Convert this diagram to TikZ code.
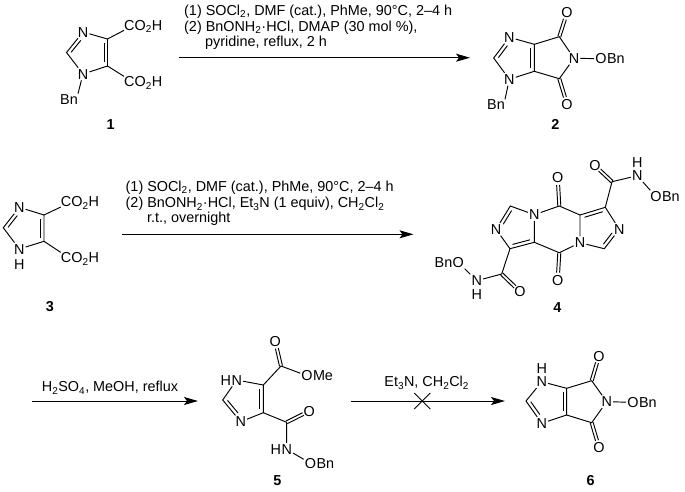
\documentclass[tikz,border=0pt]{standalone}
\usepackage{fontspec}
\setmainfont{Liberation Sans}
\usetikzlibrary{arrows.meta,positioning,calc}
\newcommand{\chemfont}{\fontsize{14.4}{15.5}\selectfont}
\tikzset{atom/.style={inner sep=1pt,text height=10.3pt,text depth=0pt,font=\chemfont}}
\tikzset{tail/.style={atom,inner sep=0pt}}
\tikzset{group/.style={atom,inner sep=0pt,anchor=west}}
\tikzset{cpd/.style={inner sep=0pt,text height=10.3pt,text depth=0pt,font=\chemfont\bfseries}}
\tikzset{reagent/.style={inner sep=0pt,anchor=west,text height=10.3pt,text depth=0pt,font=\chemfont}}
\tikzset{bond/.style={draw,line width=0.95pt}}
\tikzset{arrow/.style={draw,line width=1pt,-{Stealth[length=14pt,width=8pt,inset=3pt]}}}
% inner line of a ring double bond: from, to, offset, trim at from, trim at to
\newcommand{\inbond}[5]{\path[bond] ($(#1)!#4!(#2)!#3!90:(#2)$) -- ($(#2)!#5!(#1)!-#3!90:(#1)$);}
% carbonyl: carbon, oxygen
\newcommand{\cobond}[2]{\path[bond] ($(#1)!0!(#2)!1.5pt!90:(#2)$) -- ($(#2)!.27!(#1)!-1.5pt!90:(#1)$);
  \path[bond] ($(#1)!0!(#2)!-1.5pt!90:(#2)$) -- ($(#2)!.27!(#1)!1.5pt!90:(#1)$);}
\begin{document}
\begin{tikzpicture}[x=1pt,y=-1pt]
    \useasboundingbox (0,0) rectangle (685,491);

    % compound 1
    \node[atom] (an3) at (83,32) {N};
    \coordinate (ac2) at (66.5,52.5);
    \node[atom] (an1) at (83,74) {N};
    \coordinate (ac5) at (107.5,66);
    \coordinate (ac4) at (107.5,39);
    \node[group] (aco1) at (124,25) {CO\textsubscript{2}H};
    \node[group] (aco2) at (124,81.7) {CO\textsubscript{2}H};
    \node[tail] (abn) at (69,99) {Bn};
    \node[cpd] (lab1) at (110.7,124) {1};
    \path[bond] (an3) -- (ac2) -- (an1) -- (ac5) -- (ac4) -- (an3);
    \path[bond] (ac4) -- (aco1.south west);
    \path[bond] (ac5) -- (aco2.north west);
    \path[bond] (an1) -- (abn.north east);
    \inbond{an3}{ac2}{3.5pt}{.3}{.12}
    \inbond{ac5}{ac4}{3.5pt}{.14}{.14}

    % first reaction
    \node[reagent] (ra1) at (184,10.5) {(1) SOCl\textsubscript{2}, DMF (cat.), PhMe, 90°C, 2–4 h};
    \node[reagent] (ra2) at (184,26) {(2) BnONH\textsubscript{2}·HCl, DMAP (30 mol \%),};
    \node[reagent] (ra3) at (205,41) {pyridine, reflux, 2 h};
    \coordinate (ras) at (178.7,57.7);
    \coordinate (rae) at (470,57.7);
    \path[arrow] (ras) -- (rae);

    % compound 2
    \node[atom] (bn3) at (509.3,37.3) {N};
    \coordinate (bc2) at (493.7,58);
    \node[atom] (bn1) at (509.3,79.3) {N};
    \coordinate (bc3) at (534.3,71.3);
    \coordinate (bc4) at (534.3,44.3);
    \coordinate (bc5) at (559.3,36.7);
    \coordinate (bc6) at (559.3,78.7);
    \node[atom] (bn2) at (574,58.3) {N};
    \node[atom] (bo1) at (567,12.7) {O};
    \node[atom] (bo2) at (567,104) {O};
    \node[atom] (bo3) at (601,58.7) {O};
    \node[tail,right=-1pt of bo3] (bbn1) {Bn};
    \node[tail] (bbn2) at (496,104.7) {Bn};
    \node[cpd] (lab2) at (555.3,124) {2};
    \path[bond] (bn3) -- (bc2) -- (bn1) -- (bc3) -- (bc4) -- (bn3);
    \path[bond] (bc4) -- (bc5) -- (bn2) -- (bc6) -- (bc3);
    \path[bond] (bn2) -- (bo3);
    \path[bond] (bn1) -- (bbn2.north east);
    \cobond{bc5}{bo1}
    \cobond{bc6}{bo2}
    \inbond{bn3}{bc2}{3.5pt}{.3}{.12}
    \inbond{bc3}{bc4}{3.5pt}{.14}{.14}

    % compound 3
    \node[atom] (cn3) at (19.3,207.3) {N};
    \coordinate (cc2) at (3.3,227.7);
    \node[atom] (cn1) at (19.3,249) {N};
    \node[tail,below=3.5pt of cn1] (ch1) {H};
    \coordinate (cc5) at (44,241.3);
    \coordinate (cc4) at (44,215);
    \node[group] (cco1) at (60.7,201.7) {CO\textsubscript{2}H};
    \node[group] (cco2) at (60.7,257.7) {CO\textsubscript{2}H};
    \node[cpd] (lab3) at (50,306.7) {3};
    \path[bond] (cn3) -- (cc2) -- (cn1) -- (cc5) -- (cc4) -- (cn3);
    \path[bond] (cc4) -- (cco1.south west);
    \path[bond] (cc5) -- (cco2.north west);
    \inbond{cn3}{cc2}{3.5pt}{.3}{.12}
    \inbond{cc5}{cc4}{3.5pt}{.14}{.14}

    % second reaction
    \node[reagent] (rb1) at (125.5,186) {(1) SOCl\textsubscript{2}, DMF (cat.), PhMe, 90°C, 2–4 h};
    \node[reagent] (rb2) at (125.5,202.7) {(2) BnONH\textsubscript{2}·HCl, Et\textsubscript{3}N (1 equiv), CH\textsubscript{2}Cl\textsubscript{2}};
    \node[reagent] (rb3) at (147,217.7) {r.t., overnight};
    \coordinate (rbs) at (122,234.3);
    \coordinate (rbe) at (413.5,234.3);
    \path[arrow] (rbs) -- (rbe);

    % compound 4
    \node[atom] (dn1) at (496,229.3) {N};
    \coordinate (dc1) at (510.3,206);
    \node[atom] (dn2) at (534.3,214.7) {N};
    \coordinate (dc2) at (534.3,242.3);
    \coordinate (dc3) at (510,248.7);
    \coordinate (dc4) at (559.3,206);
    \node[atom] (do1) at (557.7,177.3) {O};
    \coordinate (dc5) at (580,215);
    \node[atom] (dn3) at (580,242.7) {N};
    \coordinate (dc6) at (559.3,252.7);
    \node[atom] (do2) at (557.7,280) {O};
    \coordinate (dc7) at (605.3,207.3);
    \node[atom] (dn4) at (619.3,229.3) {N};
    \coordinate (dc8) at (604.3,248.7);
    \coordinate (dc9) at (612,181.7);
    \node[atom] (do3) at (595,165.7) {O};
    \node[atom] (dn5) at (637.3,175.7) {N};
    \node[tail,above=1.5pt of dn5] (dh1) {H};
    \node[atom] (do4) at (656,196.7) {O};
    \node[tail,right=-1pt of do4] (dbn1) {Bn};
    \coordinate (dc10) at (501.7,274);
    \node[atom] (do5) at (520,291.7) {O};
    \node[atom] (dn6) at (476.7,280.7) {N};
    \node[tail,below=1.5pt of dn6] (dh2) {H};
    \node[atom] (do6) at (458.3,262.3) {O};
    \node[tail,left=-1pt of do6] (dbn2) {Bn};
    \node[cpd] (lab4) at (557.3,307.3) {4};
    \path[bond] (dn1) -- (dc1) -- (dn2) -- (dc2) -- (dc3) -- (dn1);
    \path[bond] (dn2) -- (dc4) -- (dc5) -- (dn3) -- (dc6) -- (dc2);
    \path[bond] (dn3) -- (dc8) -- (dn4) -- (dc7) -- (dc5);
    \path[bond] (dc7) -- (dc9) -- (dn5) -- (do4);
    \path[bond] (dc3) -- (dc10) -- (dn6) -- (do6);
    \cobond{dc4}{do1}
    \cobond{dc6}{do2}
    \cobond{dc9}{do3}
    \cobond{dc10}{do5}
    \inbond{dc1}{dn1}{3.5pt}{.12}{.3}
    \inbond{dc3}{dc2}{3.5pt}{.14}{.14}
    \inbond{dc8}{dn4}{3.5pt}{.12}{.3}
    \inbond{dc7}{dc5}{3.5pt}{.14}{.14}

    % third reaction
    \node[atom] (rc1) at (110,386.7) {H\textsubscript{2}SO\textsubscript{4}, MeOH, reflux};
    \coordinate (rcs) at (32,401);
    \coordinate (rce) at (198,401);
    \path[arrow] (rcs) -- (rce);

    % compound 5
    \node[atom] (en1) at (236.7,380) {N};
    \node[tail,left=-1pt of en1] (eh1) {H};
    \coordinate (ec2) at (222.7,400);
    \node[atom] (en3) at (240.7,421.7) {N};
    \coordinate (ec4) at (263.3,412.7);
    \coordinate (ec5) at (263.3,385);
    \coordinate (ec6) at (281,366);
    \node[atom] (eo1) at (275.3,341.7) {O};
    \node[atom] (eo2) at (307,375.7) {O};
    \node[tail,right=-1pt of eo2] (eme) {Me};
    \coordinate (ec7) at (286.7,422.3);
    \node[atom] (eo3) at (309.3,411) {O};
    \node[atom] (en2) at (286.7,449.3) {N};
    \node[tail,left=-1pt of en2] (eh2) {H};
    \node[atom] (eo4) at (310.5,463.3) {O};
    \node[tail,right=-1pt of eo4] (ebn) {Bn};
    \node[cpd] (lab5) at (277.3,480) {5};
    \path[bond] (en1) -- (ec2) -- (en3) -- (ec4) -- (ec5) -- (en1);
    \path[bond] (ec5) -- (ec6) -- (eo2);
    \path[bond] (ec4) -- (ec7) -- (en2) -- (eo4);
    \cobond{ec6}{eo1}
    \cobond{ec7}{eo3}
    \inbond{ec2}{en3}{3.5pt}{.12}{.3}
    \inbond{ec4}{ec5}{3.5pt}{.14}{.14}

    % fourth reaction, crossed out
    \node[atom] (rd1) at (426.7,381.7) {Et\textsubscript{3}N, CH\textsubscript{2}Cl\textsubscript{2}};
    \coordinate (rds) at (351.3,401);
    \coordinate (rde) at (505,401);
    \path[arrow] (rds) -- (rde);
    \coordinate (xa) at (414.3,393);
    \coordinate (xb) at (430.3,409);
    \coordinate (xc) at (430.3,393);
    \coordinate (xd) at (414.3,409);
    \path[bond] (xa) -- (xb);
    \path[bond] (xc) -- (xd);

    % compound 6
    \node[atom] (fn1) at (541.7,381.7) {N};
    \node[tail,above=1.5pt of fn1] (fh1) {H};
    \coordinate (fc2) at (526,401);
    \node[atom] (fn3) at (541.7,423.3) {N};
    \coordinate (fc3) at (566.7,415);
    \coordinate (fc4) at (566.7,388.3);
    \coordinate (fc5) at (591.7,380.7);
    \coordinate (fc6) at (591.7,422.7);
    \node[atom] (fn2) at (606.7,401.7) {N};
    \node[atom] (fo1) at (599,356) {O};
    \node[atom] (fo2) at (599,447.3) {O};
    \node[atom] (fo3) at (633,402.3) {O};
    \node[tail,right=-1pt of fo3] (fbn) {Bn};
    \node[cpd] (lab6) at (590.7,480) {6};
    \path[bond] (fn1) -- (fc2) -- (fn3) -- (fc3) -- (fc4) -- (fn1);
    \path[bond] (fc4) -- (fc5) -- (fn2) -- (fc6) -- (fc3);
    \path[bond] (fn2) -- (fo3);
    \cobond{fc5}{fo1}
    \cobond{fc6}{fo2}
    \inbond{fc2}{fn3}{3.5pt}{.12}{.3}
    \inbond{fc3}{fc4}{3.5pt}{.14}{.14}
\end{tikzpicture}
\end{document}
